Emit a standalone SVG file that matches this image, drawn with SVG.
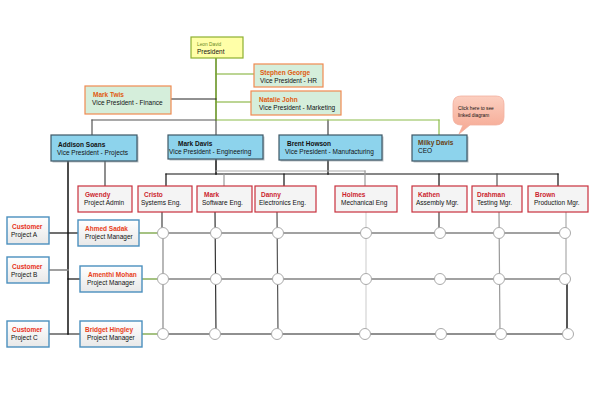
<svg xmlns="http://www.w3.org/2000/svg" width="590" height="400" viewBox="0 0 590 400">
<defs>
<linearGradient id="gw" x1="0" y1="0" x2="0" y2="1"><stop offset="0" stop-color="#ffffff"/><stop offset="1" stop-color="#e8e8e8"/></linearGradient>
<linearGradient id="gc" x1="0" y1="0" x2="0" y2="1"><stop offset="0" stop-color="#fccfc0"/><stop offset="1" stop-color="#f5a690"/></linearGradient>
<style>
text{font-family:"Liberation Sans",Arial,sans-serif;font-size:6.5px;fill:#111}
.n{font-weight:bold}
.pres{fill:#ffffa8;stroke:#8db030;stroke-width:1.2}
.vp{fill:#d5eedb;stroke:#f08a50;stroke-width:1.2}
.vpn{fill:#e05a10;font-weight:bold}
.bl{fill:#8dd3ec;stroke:#3e5866;stroke-width:1.2}
.sh{fill:#7a8a90;opacity:.5}
.t3{fill:#f4f4f4;stroke:#c8303c;stroke-width:1.2}
.t3n{fill:#cc1f2f;font-weight:bold}
.cu{fill:url(#gw);stroke:#4a8fbe;stroke-width:1.4}
.cun{fill:#e8301a;font-weight:bold}
.pmn{fill:#e8401a;font-weight:bold}
.c{fill:#fff;stroke:#aaa;stroke-width:1}
line{fill:none}
</style>
</defs>
<rect width="590" height="400" fill="#fff"/>
<g id="connectors" stroke-linecap="square">
<line x1="216" y1="58" x2="216" y2="120" stroke="#5e8c14" stroke-width="1.5"/>
<line x1="216" y1="74" x2="254" y2="74" stroke="#7aab2a" stroke-width="1.2"/>
<line x1="216" y1="102" x2="251" y2="102" stroke="#7aab2a" stroke-width="1.2"/>
<line x1="171" y1="99" x2="216" y2="99" stroke="#222" stroke-width="1"/>
<line x1="92" y1="120" x2="216" y2="120" stroke="#555" stroke-width="1.2"/>
<line x1="92" y1="120" x2="92" y2="135" stroke="#555" stroke-width="1.2"/>
<line x1="216" y1="120" x2="216" y2="135" stroke="#555" stroke-width="1.2"/>
<line x1="328" y1="120" x2="328" y2="135" stroke="#444" stroke-width="1.2"/>
<line x1="216" y1="120" x2="439" y2="120" stroke="#8cbc4a" stroke-width="1.2"/>
<line x1="439" y1="120" x2="439" y2="135" stroke="#8cbc4a" stroke-width="1.2"/>
<line x1="68" y1="161" x2="68" y2="334" stroke="#111" stroke-width="1.5"/>
<line x1="105" y1="161" x2="105" y2="186" stroke="#444" stroke-width="1.2"/>
<line x1="216" y1="159" x2="216" y2="174" stroke="#111" stroke-width="1.5"/>
<line x1="328" y1="161" x2="328" y2="174" stroke="#333" stroke-width="1.5"/>
<line x1="216" y1="171" x2="365" y2="171" stroke="#aaa" stroke-width="1.2"/>
<line x1="166" y1="174" x2="558" y2="174" stroke="#111" stroke-width="1.2"/>
<line x1="166" y1="174" x2="166" y2="186" stroke="#111" stroke-width="1.2"/>
<line x1="224" y1="174" x2="224" y2="186" stroke="#999" stroke-width="1.2"/>
<line x1="284" y1="174" x2="284" y2="186" stroke="#111" stroke-width="1.2"/>
<line x1="365" y1="171" x2="365" y2="186" stroke="#999" stroke-width="1.2"/>
<line x1="439" y1="174" x2="439" y2="186" stroke="#111" stroke-width="1.2"/>
<line x1="497" y1="174" x2="497" y2="186" stroke="#555" stroke-width="1.2"/>
<line x1="558" y1="174" x2="558" y2="186" stroke="#111" stroke-width="1.2"/>
<line x1="49" y1="233" x2="78" y2="233" stroke="#111" stroke-width="1.2"/>
<line x1="49" y1="270" x2="68" y2="270" stroke="#888" stroke-width="1.6"/>
<line x1="68" y1="279" x2="80" y2="279" stroke="#111" stroke-width="1.2"/>
<line x1="49" y1="334" x2="80" y2="334" stroke="#111" stroke-width="1.2"/>
<line x1="139" y1="233" x2="160" y2="233" stroke="#6a9a30" stroke-width="1.2"/>
<line x1="142" y1="279" x2="160" y2="279" stroke="#6a9a30" stroke-width="1.2"/>
<line x1="142" y1="334" x2="160" y2="334" stroke="#6a9a30" stroke-width="1.2"/>
<line x1="163" y1="233" x2="565" y2="233" stroke="#444" stroke-width="1.2"/>
<line x1="163" y1="279" x2="565" y2="279" stroke="#444" stroke-width="1.2"/>
<line x1="163" y1="334" x2="567" y2="334" stroke="#222" stroke-width="1.2"/>
<line x1="162" y1="212" x2="162" y2="233" stroke="#444" stroke-width="1.2"/>
<line x1="163" y1="233" x2="163" y2="334" stroke="#888" stroke-width="1.2"/>
<line x1="215" y1="212" x2="216" y2="334" stroke="#333" stroke-width="1.2"/>
<line x1="277" y1="212" x2="278" y2="334" stroke="#555" stroke-width="1.2"/>
<line x1="366" y1="212" x2="366" y2="334" stroke="#d4d4d4" stroke-width="1.2"/>
<line x1="439" y1="212" x2="439" y2="233" stroke="#444" stroke-width="1.2"/>
<line x1="499" y1="212" x2="500" y2="334" stroke="#999" stroke-width="1.2"/>
<line x1="566" y1="212" x2="566" y2="279" stroke="#aaa" stroke-width="1.2"/>
<line x1="567" y1="279" x2="567" y2="334" stroke="#111" stroke-width="1.4"/>
</g>
<g id="junctions">
<circle class="c" cx="163" cy="233" r="5.5"/><circle class="c" cx="216" cy="233" r="5.5"/><circle class="c" cx="278" cy="233" r="5.5"/><circle class="c" cx="366" cy="233" r="5.5"/><circle class="c" cx="440" cy="233" r="5.5"/><circle class="c" cx="499" cy="233" r="5.5"/><circle class="c" cx="565" cy="233" r="5.5"/>
<circle class="c" cx="163" cy="279" r="5.5"/><circle class="c" cx="216" cy="279" r="5.5"/><circle class="c" cx="278" cy="279" r="5.5"/><circle class="c" cx="366" cy="279" r="5.5"/><circle class="c" cx="440" cy="279" r="5.5"/><circle class="c" cx="499" cy="279" r="5.5"/><circle class="c" cx="565" cy="279" r="5.5"/>
<circle class="c" cx="163" cy="334" r="5.5"/><circle class="c" cx="215" cy="334" r="5.5"/><circle class="c" cx="277" cy="334" r="5.5"/><circle class="c" cx="365" cy="334" r="5.5"/><circle class="c" cx="441" cy="334" r="5.5"/><circle class="c" cx="501" cy="334" r="5.5"/><circle class="c" cx="568" cy="334" r="5.5"/>
</g>
<g id="president"><rect class="pres" x="191" y="37" width="52" height="21"/><text x="197" y="46" style="font-size:4.8px;fill:#6a8a1a">Leon David</text><text x="197" y="54">President</text></g>
<g id="stephen"><rect class="vp" x="254" y="64" width="69" height="23"/><text class="vpn" x="260" y="75">Stephen George</text><text x="260" y="83">Vice President - HR</text></g>
<g id="natalie"><rect class="vp" x="251" y="91" width="90" height="24"/><text class="vpn" x="259" y="102">Natalie John</text><text x="259" y="110">Vice President - Marketing</text></g>
<g id="marktwis"><rect class="vp" x="85" y="86" width="86" height="28"/><text class="vpn" x="93" y="97">Mark Twis</text><text x="92" y="105">Vice President - Finance</text></g>
<g id="addison"><rect class="sh" x="52.5" y="136.5" width="86" height="26"/><rect class="bl" x="51" y="135" width="86" height="26"/><text class="n" x="58" y="147">Addison Soans</text><text x="57" y="155">Vice President - Projects</text></g>
<g id="markdavis"><rect class="sh" x="169.5" y="136.5" width="95" height="24"/><rect class="bl" x="168" y="135" width="95" height="24"/><text class="n" x="178" y="146">Mark Davis</text><text x="169" y="154">Vice President - Engineering</text></g>
<g id="brent"><rect class="sh" x="280.5" y="136.5" width="103" height="25"/><rect class="bl" x="279" y="135" width="103" height="25"/><text class="n" x="287" y="146">Brent Howson</text><text x="285" y="154">Vice President - Manufacturing</text></g>
<g id="milky"><rect class="sh" x="413.5" y="136.5" width="55" height="26"/><rect class="bl" x="412" y="135" width="55" height="26"/><text class="n" x="418" y="145" style="fill:#6a4010">Milky Davis</text><text x="418" y="153">CEO</text></g>
<g id="callout"><path d="M461,96 H496 Q504,96 504,104 V117 Q504,125 496,125 H470 L459,134 L463,125 H461 Q453,125 453,117 V104 Q453,96 461,96 Z" fill="url(#gc)" stroke="#f2b0a0" stroke-width=".8"/><text x="458" y="110" style="font-size:4.8px">Click here to see</text><text x="458" y="117" style="font-size:4.8px">linked diagram</text></g>
<g id="gwendy"><rect class="t3" x="78" y="186" width="54" height="26"/><text class="t3n" x="85" y="197">Gwendy</text><text x="84" y="205">Project Admin</text></g>
<g id="cristo"><rect class="t3" x="138" y="186" width="54" height="26"/><text class="t3n" x="144" y="197">Cristo</text><text x="141" y="205">Systems Eng.</text></g>
<g id="mark"><rect class="t3" x="197" y="186" width="55" height="26"/><text class="t3n" x="204" y="197">Mark</text><text x="202" y="205">Software Eng.</text></g>
<g id="danny"><rect class="t3" x="255" y="186" width="61" height="26"/><text class="t3n" x="261" y="197">Danny</text><text x="259" y="205">Electronics Eng.</text></g>
<g id="holmes"><rect class="t3" x="335" y="186" width="62" height="26"/><text class="t3n" x="342" y="197">Holmes</text><text x="341" y="205">Mechanical Eng</text></g>
<g id="kathen"><rect class="t3" x="412" y="186" width="55" height="26"/><text class="t3n" x="418" y="197">Kathen</text><text x="416" y="205">Assembly Mgr.</text></g>
<g id="drahman"><rect class="t3" x="472" y="186" width="50" height="26"/><text class="t3n" x="477" y="197">Drahman</text><text x="477" y="205">Testing Mgr.</text></g>
<g id="brown"><rect class="t3" x="528" y="186" width="60" height="26"/><text class="t3n" x="535" y="197">Brown</text><text x="534" y="205">Production Mgr.</text></g>
<g id="custA"><rect class="cu" x="7" y="217" width="42" height="27"/><text class="cun" x="12" y="229">Customer</text><text x="11" y="237">Project A</text></g>
<g id="custB"><rect class="cu" x="7" y="257" width="42" height="26"/><text class="cun" x="12" y="269">Customer</text><text x="11" y="277">Project B</text></g>
<g id="custC"><rect class="cu" x="7" y="321" width="42" height="26"/><text class="cun" x="12" y="332">Customer</text><text x="11" y="340">Project C</text></g>
<g id="ahmed"><rect class="cu" x="78" y="220" width="61" height="26"/><text class="pmn" x="85" y="231">Ahmed Sadak</text><text x="85" y="239">Project Manager</text></g>
<g id="amenthi"><rect class="cu" x="80" y="266" width="62" height="26"/><text class="pmn" x="88" y="277">Amenthi Mohan</text><text x="87" y="285">Project Manager</text></g>
<g id="bridget"><rect class="cu" x="80" y="321" width="62" height="26"/><text class="pmn" x="85" y="332">Bridget Hingley</text><text x="87" y="340">Project Manager</text></g>
</svg>
